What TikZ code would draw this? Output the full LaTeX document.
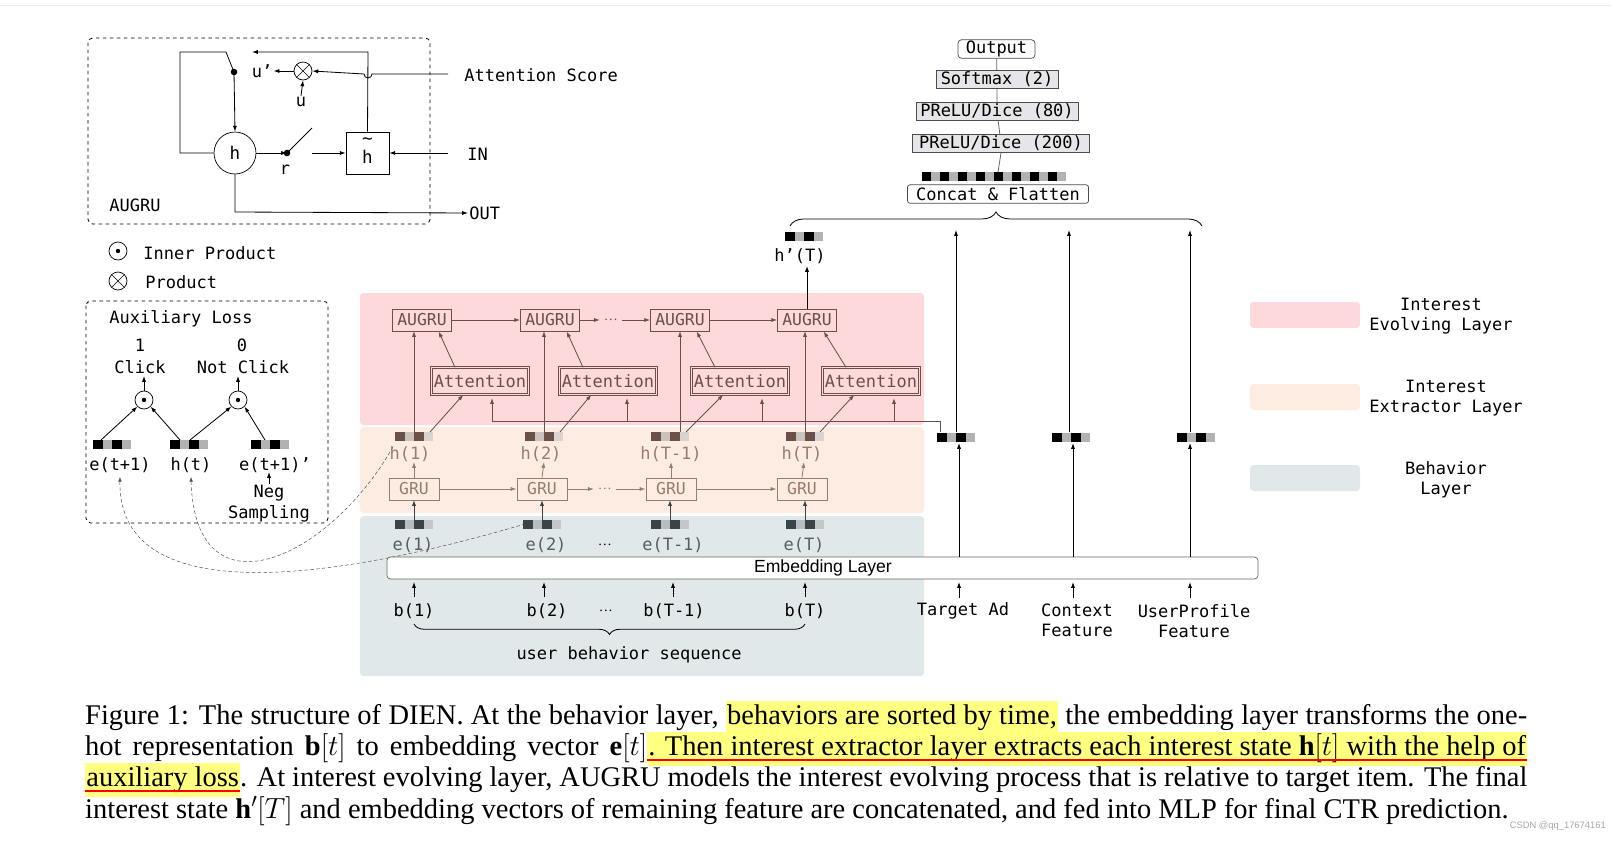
\documentclass[tikz,border=0pt]{standalone}
\usepackage{fontspec}
\setmainfont{Liberation Serif}
\newfontfamily\monof{DejaVu Sans Mono}
\newfontfamily\sansf{Liberation Sans}
\usetikzlibrary{arrows.meta,decorations.pathreplacing}
\definecolor{evo}{HTML}{6B504A}
\definecolor{ext}{HTML}{9A7B70}
\definecolor{beh}{HTML}{3A4347}
\definecolor{pinkbg}{HTML}{FDD9DC}
\definecolor{peachbg}{HTML}{FDECE2}
\definecolor{bluebg}{HTML}{E1E8EA}
\definecolor{hlc}{HTML}{FFFF80}
\definecolor{mlpg}{HTML}{E6E6EA}
\newsavebox\hbx
\newcommand\hlmark[1]{{\setlength\fboxsep{1pt}\colorbox{hlc}{\strut #1}}}
\newcommand\hlund[1]{\sbox\hbx{\strut #1}{\setlength\fboxsep{1pt}\colorbox{hlc}{\usebox\hbx}}\llap{\color{red}\rule[-5pt]{\dimexpr\wd\hbx+2pt}{1.6pt}}}
\begin{document}
\begin{tikzpicture}[x=0.03cm,y=-0.03cm,
  lab/.style={font=\monof\fontsize{14.5}{17}\selectfont,inner sep=1pt},
  arr/.style={-{Latex[length=5pt,width=3.5pt]},line width=0.7pt},
  ln/.style={line width=0.7pt},
  augbox/.style={draw=evo,text=evo,line width=0.8pt,font=\monof\fontsize{14}{16}\selectfont,minimum height=0.66cm,inner xsep=4pt},
  attbox/.style={draw=evo,text=evo,double=pinkbg,double distance=1.2pt,line width=0.6pt,font=\monof\fontsize{14.5}{16}\selectfont,minimum height=0.8cm,inner xsep=2pt},
  grubox/.style={draw=ext,text=ext,line width=0.8pt,font=\monof\fontsize{14}{16}\selectfont,minimum height=0.66cm,minimum width=1.5cm},
  mlp/.style={draw=black!70,fill=mlpg,line width=0.6pt,font=\monof\fontsize{14.5}{16}\selectfont,inner sep=1pt,minimum height=0.55cm},
  circ/.style={circle,draw,line width=0.6pt,inner sep=0pt,minimum size=0.54cm},
]
\draw[black!8,line width=0.8pt] (0,5) -- (1611,5);

% ---------- AUGRU cell ----------
\draw[dashed,line width=0.7pt,rounded corners=4pt] (88,38) rectangle (430,224);
\node[circ,minimum size=1.26cm,font=\monof\fontsize{15}{17}\selectfont] (hc) at (235,153) {h};
\node[draw,line width=0.6pt,minimum width=1.29cm,minimum height=1.26cm] (ht) at (367.5,153) {};
\node[lab,font=\monof\fontsize{15}{17}\selectfont] (htl) at (367.5,157) {h};
\node[lab,font=\monof\fontsize{15}{17}\selectfont] (htt) at (367.5,141) {\char"7E};
\fill (234,72) circle (3.3);
\coordinate (dt) at (234,72);
\node[circ] (ot) at (303,71) {};
\draw[line width=0.5pt] (ot.north west)--(ot.south east) (ot.north east)--(ot.south west);
\node[lab] (up) at (262,71) {u’};
\node[lab] (u) at (301,102) {u};
\draw[arr] (u.north) -- (ot.south);
\draw[arr] (ot.west) -- (up.east);
\draw[ln] (hc.west) -- (180,153) -- (180,52) -- (226,52) -- (dt);
\draw[arr] (dt) -- (hc.north);
\draw[arr] (ht.north) -- (368,52) -- (252,52);
\node[lab,anchor=west] (as) at (463,75) {Attention Score};
\draw[arr] (448,74) -- (372,74) arc (0:180:4) -- (ot.east);
\node[lab,anchor=west] (in) at (466,154) {IN};
\draw[arr] (448,153) -- (ht.east);
\fill (287,153) circle (3.3);
\coordinate (rd) at (287,153);
\draw[arr] (hc.east) -- (rd);
\draw[ln] (rd) -- (312,128);
\node[lab] (r) at (285,170) {r};
\draw[arr] (312,153) -- (ht.west);
\node[lab,anchor=west] (out) at (468,213) {OUT};
\draw[arr] (hc.south) -- (235,212) -- (out.west);
\node[lab] (augl) at (135,205) {AUGRU};

% legend
\node[circ] (od1) at (118,251) {}; \fill (od1) circle (2.2);
\node[lab,anchor=west] at (142,253) {Inner Product};
\node[circ] (ox1) at (118,281) {};
\draw[line width=0.5pt] (ox1.north west)--(ox1.south east) (ox1.north east)--(ox1.south west);
\node[lab,anchor=west] at (144,282) {Product};

% ---------- Auxiliary loss ----------
\draw[dashed,line width=0.7pt,rounded corners=4pt] (86,301) rectangle (328,523);
\node[lab] at (181,319) {Auxiliary Loss};
\node[lab] at (140,345) {1};
\node[lab] (clk) at (140,367) {Click};
\node[lab] at (242,345) {0};
\node[lab] (nclk) at (243,367) {Not Click};
\node[circ] (ip1) at (144,400) {}; \fill (ip1) circle (2.2);
\node[circ] (ip2) at (238,400) {}; \fill (ip2) circle (2.2);
\draw[arr] (ip1.north) -- (144,376);
\draw[arr] (ip2.north) -- (238,376);
\foreach \cx/\nm in {112/ba,189/bb,270/bc}{
  \foreach \i/\c in {0/black,1/black!30,2/black,3/black!30}
    \fill[\c] (\cx-19+\i*9.5,440) rectangle ++(9.5,9);
  \coordinate (\nm) at (\cx,440);
}
\node[lab] (et1) at (120,465) {e(t+1)};
\node[lab] (htx) at (191,465) {h(t)};
\node[lab] (etn) at (275,465) {e(t+1)’};
\draw[arr] (101,440) -- (ip1.south west);
\draw[arr] (180,440) -- (ip1.south east);
\draw[arr] (190,440) -- (ip2.south west);
\draw[arr] (265,440) -- (ip2.south east);
\node[lab] (neg) at (269,493) {Neg};
\node[lab] at (269,514) {Sampling};
\draw[arr] (neg.north) -- (269,472);

% ---------- layer backgrounds ----------
\fill[pinkbg,rounded corners=3pt] (360,293) rectangle (924,425);
\fill[peachbg,rounded corners=3pt] (360,427) rectangle (924,513);
\fill[bluebg,rounded corners=3pt] (360,516) rectangle (924,676);

% dotted links
\draw[densely dashed,line width=0.4pt,black!70,{Latex[length=4pt,width=3pt]}-] (120,477) .. controls (118,600) and (300,590) .. (525,524);
\draw[densely dashed,line width=0.4pt,black!70,{Latex[length=4pt,width=3pt]}-] (191,477) .. controls (195,620) and (330,560) .. (394,445);

% ---------- evolving layer ----------
\node[augbox] (a1) at (422,320) {AUGRU};
\node[augbox] (a2) at (550,320) {AUGRU};
\node[augbox] (a3) at (680,320) {AUGRU};
\node[augbox] (a4) at (807,320) {AUGRU};
\node[font=\fontsize{12}{12}\selectfont,text=evo] (ad) at (611,320) {…};
\draw[arr,draw=evo] (a1) -- (a2);
\draw[arr,draw=evo] (a2) -- (ad);
\draw[arr,draw=evo] (ad) -- (a3);
\draw[arr,draw=evo] (a3) -- (a4);
\node[attbox] (t1) at (480,381) {Attention};
\node[attbox] (t2) at (608,381) {Attention};
\node[attbox] (t3) at (740,381) {Attention};
\node[attbox] (t4) at (871,381) {Attention};

% ---------- extractor layer ----------
\foreach \cx/\nm in {414/hb1,544/hb2,670/hb3,805/hb4}{
  \foreach \i/\c in {0/evo,1/evo!35,2/evo,3/evo!25}
    \fill[\c] (\cx-19+\i*9.5,432) rectangle ++(9.5,9);
  \coordinate (\nm) at (\cx,432);
}
\node[lab,text=ext] (hl1) at (410,454) {h(1)};
\node[lab,text=ext] (hl2) at (541,454) {h(2)};
\node[lab,text=ext] (hl3) at (671,454) {h(T-1)};
\node[lab,text=ext] (hl4) at (802,454) {h(T)};
\node[grubox] (g1) at (414,489) {GRU};
\node[grubox] (g2) at (542,489) {GRU};
\node[grubox] (g3) at (671,489) {GRU};
\node[grubox] (g4) at (802,489) {GRU};
\node[font=\fontsize{12}{12}\selectfont,text=ext] (gd) at (605,489) {…};
\draw[arr,draw=ext] (g1) -- (g2);
\draw[arr,draw=ext] (g2) -- (gd);
\draw[arr,draw=ext] (gd) -- (g3);
\draw[arr,draw=ext] (g3) -- (g4);
\foreach \g/\x in {g1/414,g2/544,g3/671,g4/804}{
  \draw[arr,draw=ext] (\g.north) -- (\x,462);
}
\foreach \x in {414,544,680,805}{
  \draw[arr,draw=evo] (\x,432) -- (\x,331);
}
\foreach \t/\a in {t1/a1,t2/a2,t3/a3,t4/a4}{
  \draw[arr,draw=evo] ([xshift=-0.75cm]\t.north) -- ([xshift=0.5cm]\a.south);
}
\foreach \x/\t in {430/t1,560/t2,686/t3,820/t4}{
  \draw[arr,draw=evo] (\x,432) -- ([xshift=-0.5cm]\t.south);
}
\coordinate (tgt) at (940,432);
\draw[ln,draw=evo] (492,421) -- (940,421) -- (tgt);
\foreach \x in {492,627,762,894}{
  \draw[arr,draw=evo] (\x,421) -- (\x,398);
}

% ---------- behavior layer ----------
\foreach \cx/\nm in {414/eb1,542/eb2,670/eb3,805/eb4}{
  \foreach \i/\c in {0/beh,1/beh!35,2/beh,3/beh!30}
    \fill[\c] (\cx-19+\i*9.5,520) rectangle ++(9.5,9);
  \coordinate (\nm) at (\cx,520);
  \draw[arr,draw=beh] (\cx,520) -- (\cx,500);
}
\node[lab,text=beh!85] (el1) at (413,545) {e(1)};
\node[lab,text=beh!85] (el2) at (546,545) {e(2)};
\node[font=\fontsize{12}{12}\selectfont] at (605,545) {…};
\node[lab,text=beh!85] (el3) at (673,545) {e(T-1)};
\node[lab,text=beh!85] (el4) at (804,545) {e(T)};
\node[draw=black!60,fill=white,rounded corners=3pt,line width=0.6pt,minimum width=26.13cm,minimum height=0.66cm,inner sep=0pt] (emb) at (822.5,568) {};
\node[font=\sansf\fontsize{15}{17}\selectfont] at (823,568) {Embedding Layer};
\node[lab] (b1) at (414,611) {b(1)};
\node[lab] (b2) at (547,611) {b(2)};
\node[font=\fontsize{12}{12}\selectfont] at (606,611) {…};
\node[lab] (b3) at (674,611) {b(T-1)};
\node[lab] (b4) at (805,611) {b(T)};
\foreach \x in {414,544,673,805}{\draw[arr] (\x,597) -- (\x,582);}
\draw[decorate,decoration={brace,mirror,amplitude=9pt},line width=0.7pt] (414,624) -- (805,624);
\node[lab] at (629,655) {user behavior sequence};

% ---------- other features ----------
\node[lab] (ta) at (963,611) {Target Ad};
\node[lab,align=center] (cf) at (1077,620) {Context\\Feature};
\node[lab,align=center] (uf) at (1194,621) {UserProfile\\Feature};
\foreach \x/\cx in {959/956,1073/1071,1190/1196}{
  \draw[arr] (\x,598) -- (\x,582);
  \draw[arr] (\x,557) -- (\x,443);
  \foreach \i/\c in {0/black,1/black!30,2/black,3/black!30}
    \fill[\c] (\cx-19+\i*9.5,433) rectangle ++(9.5,9);
}
\draw[arr] (956,432) -- (956,230);
\draw[arr] (1069,432) -- (1069,230);
\draw[arr] (1190,432) -- (1190,230);

\foreach \i/\c in {0/black,1/black!30,2/black,3/black!30}
  \fill[\c] (804-19+\i*9.5,232) rectangle ++(9.5,9);
\node[lab] (hp) at (800,256) {h’(T)};
\draw[arr] (a4.north) -- (807,266);
\draw[decorate,decoration={brace,amplitude=12pt},line width=0.7pt] (790,226) -- (1202,226);

% ---------- MLP ----------
\foreach \i in {0,...,15}{\fill[black!30] (922+\i*9,172) rectangle ++(9,9);}
\foreach \i in {0,2,...,14}{\fill[black] (922+\i*9,172) rectangle ++(9,9);}
\node[mlp,fill=white,rounded corners=2pt,minimum width=5.43cm] (cat) at (998,194) {Concat \& Flatten};
\node[mlp,minimum width=5.31cm] (p200) at (1001,143.5) {PReLU/Dice (200)};
\node[mlp,minimum width=4.86cm] (p80) at (997,111.5) {PReLU/Dice (80)};
\node[mlp,minimum width=3.66cm] (sm) at (997,79.5) {Softmax (2)};
\node[mlp,fill=white,rounded corners=3pt,minimum width=2.31cm,minimum height=0.5cm] (outp) at (996.5,49) {Output};
\draw[ln,black!60] (outp) -- (sm) (sm) -- (p80) (p80) -- (p200) (p200.south) -- (998,172);

% ---------- right legend ----------
\fill[pinkbg,rounded corners=3pt] (1250,302) rectangle (1360,328);
\fill[peachbg,rounded corners=3pt] (1250,384) rectangle (1360,410);
\fill[bluebg,rounded corners=3pt] (1250,465) rectangle (1360,491);
\node[lab,align=center] at (1441,316) {Interest\\Evolving Layer};
\node[lab,align=center] at (1446,398) {Interest\\Extractor Layer};
\node[lab,align=center] at (1446,480) {Behavior\\Layer};

% ---------- caption ----------
\begin{scope}[every node/.style={anchor=west,inner sep=0pt,font=\fontsize{24.3}{27}\selectfont}]
\node at (85,718) {\makebox[43.26cm][s]{Figure 1: The structure of DIEN. At the behavior layer, \hlmark{behaviors are sorted by time,} the embedding layer transforms the one-}};
\node at (85,749) {\makebox[43.26cm][s]{hot representation $\mathbf{b}[t]$ to embedding vector $\mathbf{e}[t]$\hlund{. Then interest extractor layer extracts each interest state $\mathbf{h}[t]$ with the help of}}};
\node at (85,780) {\makebox[43.26cm][s]{\hlund{auxiliary loss}. At interest evolving layer, AUGRU models the interest evolving process that is relative to target item. The final}};
\node at (85,811) {interest state $\mathbf{h}'[T]$ and embedding vectors of remaining feature are concatenated, and fed into MLP for final CTR prediction.};
\end{scope}
\node[anchor=east,inner sep=0pt,text=black!35,font=\sansf\fontsize{8}{9}\selectfont] at (1606,826) {CSDN @qq\_17674161};
\pgfresetboundingbox
\useasboundingbox (0,0) rectangle (1611,862);
\end{tikzpicture}
\end{document}
